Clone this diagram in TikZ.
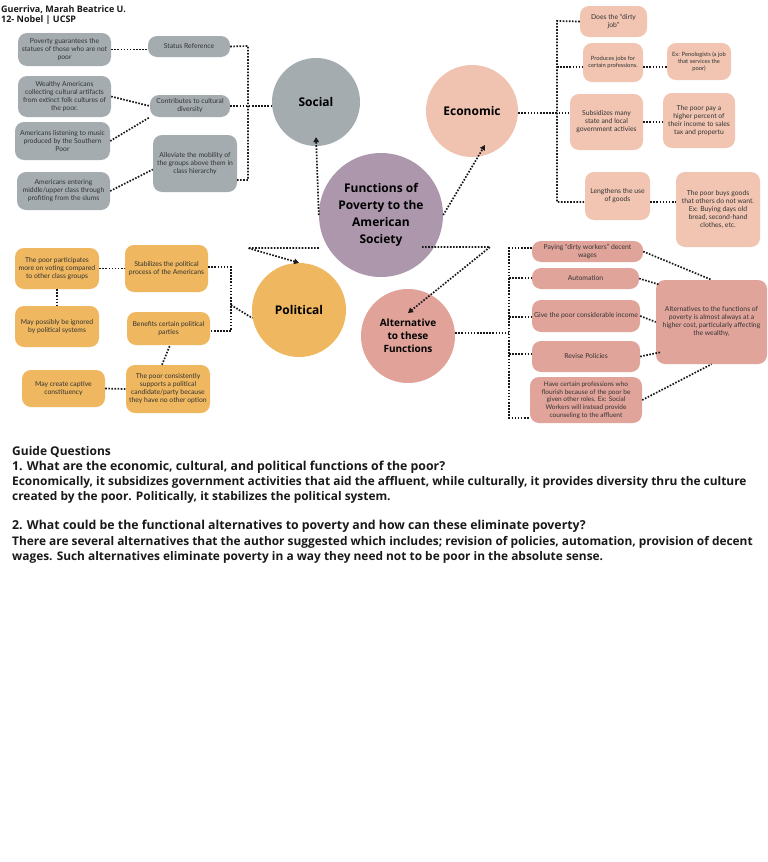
\documentclass[tikz,border=0pt]{standalone}
\usepackage{fontspec}
\setmainfont{Open Sans}
\newfontfamily\boxf{Lato}
\newfontfamily\qf{Open Sans}
\usetikzlibrary{arrows.meta,calc}
\definecolor{grayC}{HTML}{A4ACB0}
\definecolor{econC}{HTML}{F0C3B0}
\definecolor{econB}{HTML}{F1C5B2}
\definecolor{cenC}{HTML}{AC97AD}
\definecolor{polC}{HTML}{EFB860}
\definecolor{polB}{HTML}{EFB75F}
\definecolor{altC}{HTML}{E0A299}
\definecolor{altB}{HTML}{E1A49B}
\definecolor{txt}{HTML}{333333}
\tikzset{
  bx/.style={rounded corners=9pt, align=center, inner sep=1pt, text=txt,
    font=\boxf\fontsize{6.8}{8}\selectfont},
  gbox/.style={bx, fill=grayC},
  ebox/.style={bx, fill=econB},
  abox/.style={bx, fill=altB},
  pbox/.style={bx, fill=polB},
  bigc/.style={circle, inner sep=0pt, align=center, text=black},
  dot/.style={line width=1.7pt, dash pattern=on 1.6pt off 1.5pt, draw=black!90},
  dotarr/.style={dot, -{Triangle[length=5pt,width=5.5pt]}},
  ln/.style={anchor=base west, inner sep=0pt, text=black!90}
}
\begin{document}
\begin{tikzpicture}[x=1pt,y=-1pt]
\useasboundingbox[fill=white] (0,0) rectangle (768,862);

% header
\node[ln, font=\qf\bfseries\fontsize{9}{10}\selectfont] (hd1) at (1,12.5) {Guerriva, Marah Beatrice U.};
\node[ln, font=\qf\bfseries\fontsize{9}{10}\selectfont] (hd2) at (1,23) {12- Nobel | UCSP};

% circles
\node[bigc, fill=grayC, minimum size=88pt, font=\bfseries\fontsize{12}{14}\selectfont] (soc) at (316,102) {Social};
\node[bigc, fill=econC, minimum size=92pt, font=\bfseries\fontsize{12}{14}\selectfont] (eco) at (472,111) {Economic};
\node[bigc, fill=cenC, minimum size=124pt, font=\bfseries\fontsize{12}{17}\selectfont] (cen) at (381,215) {Functions of\\Poverty to the\\American\\Society};
\node[bigc, fill=polC, minimum size=94pt, font=\bfseries\fontsize{12}{14}\selectfont] (pol) at (299,310) {Political};
\node[bigc, fill=altC, minimum size=94pt, font=\bfseries\fontsize{10}{13}\selectfont] (alt) at (408,336) {Alternative\\to these\\Functions};

% social boxes
\node[gbox, minimum width=93pt, minimum height=33pt] (g1) at (64.5,49.5) {Poverty guarantees the\\statues of those who are not\\poor};
\node[gbox, minimum width=82pt, minimum height=21pt] (sref) at (189,46.5) {Status Reference};
\node[gbox, minimum width=93pt, minimum height=41pt] (g2) at (64.5,96.5) {Wealthy Americans\\collecting cultural artifacts\\from extinct folk cultures of\\the poor.};
\node[gbox, minimum width=80pt, minimum height=22pt] (cdiv) at (190,106) {Contributes to cultural\\diversity};
\node[gbox, minimum width=95pt, minimum height=38pt] (g3) at (62.5,141) {Americans listening to music\\produced by the Southern\\Poor};
\node[gbox, minimum width=84pt, minimum height=57pt] (alle) at (195,163.5) {Alleviate the mobility of\\the groups above them in\\class hierarchy};
\node[gbox, minimum width=93pt, minimum height=38pt] (g4) at (63.5,191) {Americans entering\\middle/upper class through\\profiting from the slums};

% economic boxes
\node[ebox, minimum width=67pt, minimum height=31pt] (e1) at (613.5,21.5) {Does the “dirty\\job”};
\node[ebox, minimum width=60pt, minimum height=39pt, font=\boxf\fontsize{5.8}{7}\selectfont] (e2) at (613,62.5) {Produces jobs for\\certain professions.};
\node[ebox, minimum width=64pt, minimum height=37pt, font=\boxf\fontsize{5.8}{7}\selectfont] (e2b) at (699,61.5) {Ex: Penologists (a job\\that services the\\poor)};
\node[ebox, minimum width=73pt, minimum height=56pt] (e3) at (606.5,122) {Subsidizes many\\state and local\\government activies};
\node[ebox, minimum width=72pt, minimum height=55pt] (e3b) at (699,120.5) {The poor pay a\\higher percent of\\their income to sales\\tax and propertu};
\node[ebox, minimum width=65pt, minimum height=48pt] (e4) at (617.5,196) {Lengthens the use\\of goods};
\node[ebox, minimum width=84pt, minimum height=75pt] (e4b) at (718,209.5) {The poor buys goods\\that others do not want.\\Ex: Buying days old\\bread, second-hand\\clothes, etc.};

% alternative boxes
\node[abox, minimum width=111pt, minimum height=21pt] (a1) at (587.5,251.5) {Paying “dirty workers” decent\\wages};
\node[abox, minimum width=107pt, minimum height=21pt] (a2) at (585.5,278.5) {Automation};
\node[abox, minimum width=108pt, minimum height=32pt] (a3) at (586,316) {Give the poor considerable income};
\node[abox, minimum width=108pt, minimum height=31pt] (a4) at (586,356.5) {Revise Policies};
\node[abox, minimum width=112pt, minimum height=46pt, font=\boxf\fontsize{6.5}{7.6}\selectfont] (a5) at (586,400) {Have certain professions who\\flourish because of the poor be\\given other roles. Ex: Social\\Workers will instead provide\\counseling to the affluent};
\node[abox, minimum width=111pt, minimum height=84pt] (ab) at (711.5,322) {Alternatives to the functions of\\poverty is almost always at a\\higher cost, particularly affecting\\the wealthy,};

% political boxes
\node[pbox, minimum width=84pt, minimum height=41pt] (p1) at (57,268.5) {The poor participates\\more on voting compared\\to other class groups};
\node[pbox, minimum width=83pt, minimum height=47pt] (p2) at (166.5,268.5) {Stabilizes the political\\process of the Americans};
\node[pbox, minimum width=84pt, minimum height=41pt] (p3) at (57,326.5) {May possibly be ignored\\by political systems};
\node[pbox, minimum width=83pt, minimum height=33pt] (p4) at (168.5,328.5) {Benefits certain political\\parties};
\node[pbox, minimum width=83pt, minimum height=37pt] (p5) at (63.5,388.5) {May create captive\\constituency};
\node[pbox, minimum width=84pt, minimum height=48pt] (p6) at (168,389) {The poor consistently\\supports a political\\candidate/party because\\they have no other option};

% social connectors
\coordinate (sv1) at (248,46);
\coordinate (sv3) at (248,180);
\draw[dot] (g1.east) -- (g1.east -| sref.west);
\draw[dot] (sref.east) -- (sv1) -- (sv3) -- (alle.east |- sv3);
\draw[dot] (cdiv.east) -- (cdiv.east -| soc.west);
\draw[dot] (g2.east) -- (cdiv.west);
\draw[dot] (g3.east) -- (cdiv.south west);
\draw[dot] (g4.east) -- ([yshift=-6pt]alle.west);

% economic connectors
\coordinate (ev0) at (557,113);
\coordinate (ev1) at (557,21);
\coordinate (ev2) at (557,67);
\coordinate (ev4) at (557,202);
\draw[dot] (eco.east |- ev0) -- (ev0) -- (e3.west |- ev0);
\draw[dot] (e1.west) -- (ev1) -- (ev4) -- (e4.west |- ev4);
\draw[dot] (ev2) -- (e2.west |- ev2);
\draw[dot] (e2.east |- ev2) -- (e2b.west |- ev2);
\draw[dot] (e3.east) -- (e3b.west |- e3.east);
\draw[dot] (e4.east |- ev4) -- (e4b.west |- ev4);

% alternative connectors
\coordinate (av0) at (509,333);
\coordinate (av1) at (509,248);
\coordinate (av2) at (509,278);
\coordinate (av3) at (509,317);
\coordinate (av4) at (509,354);
\coordinate (av5) at (509,418);
\draw[dot] (alt.east |- av0) -- (av0);
\draw[dot] (a1.west |- av1) -- (av1) -- (av5) -- (a5.west |- av5);
\draw[dot] (av2) -- (a2.west |- av2);
\draw[dot] (av3) -- (a3.west |- av3);
\draw[dot] (av4) -- (a4.west |- av4);
\draw[dot] (a1.east) -- (ab.north);
\draw[dot] (a2.east) -- ([xshift=4pt,yshift=-5pt]ab.north west);
\draw[dot] (a3.east) -- (ab.west);
\draw[dot] (a4.east) -- ([xshift=5pt,yshift=12pt]ab.south west);
\draw[dot] (a5.east) -- (ab.south);

% political connectors
\coordinate (pv1) at (231,267);
\coordinate (pv2) at (231,331);
\coordinate (pv3) at (231,305);
\draw[dot] (p1.east) -- (p2.west);
\draw[dot] (p1.south) -- (p3.north);
\draw[dot] (p2.east |- pv1) -- (pv1) -- (pv2) -- (p4.east |- pv2);
\draw[dot] (pv3) -- (pol.190);
\draw[dot] ([xshift=-6pt]p6.north) -- ([xshift=1.5pt]p4.south);
\draw[dot] (p5.east) -- (p6.west);

% central arrows
\coordinate (cp1) at (248,248);
\coordinate (cp2) at (490,247);
\draw[dotarr] (cen.west) -- ([yshift=9pt]soc.south);
\draw[dotarr] (cen.east) -- ([shift={(13pt,-34pt)}]eco.center);
\draw[dotarr] ([yshift=-33pt]cen.west) -- (cp1) -- (pol.north);
\draw[dotarr] ([shift={(41pt,-32pt)}]cen.center) -- (cp2) -- ([yshift=23pt]alt.center);

% guide questions
\node[ln, font=\qf\bfseries\fontsize{12}{13}\selectfont] (q0) at (12,455.5) {Guide Questions};
\node[ln, font=\qf\bfseries\fontsize{12.3}{13}\selectfont] (q1) at (12,470.5) {1. What are the economic, cultural, and political functions of the poor?};
\node[ln, font=\qf\bfseries\fontsize{11.9}{13}\selectfont] (q1a) at (12,485) {Economically, it subsidizes government activities that aid the affluent, while culturally, it provides diversity thru the culture};
\node[ln, font=\qf\bfseries\fontsize{11.9}{13}\selectfont] (q1b) at (12,500) {created by the poor. Politically, it stabilizes the political system.};
\node[ln, font=\qf\bfseries\fontsize{12.3}{13}\selectfont] (q2) at (12,529.5) {2. What could be the functional alternatives to poverty and how can these eliminate poverty?};
\node[ln, font=\qf\bfseries\fontsize{11.9}{13}\selectfont] (q2a) at (12,545) {There are several alternatives that the author suggested which includes; revision of policies, automation, provision of decent};
\node[ln, font=\qf\bfseries\fontsize{11.9}{13}\selectfont] (q2b) at (12,560) {wages. Such alternatives eliminate poverty in a way they need not to be poor in the absolute sense.};
\end{tikzpicture}
\end{document}
